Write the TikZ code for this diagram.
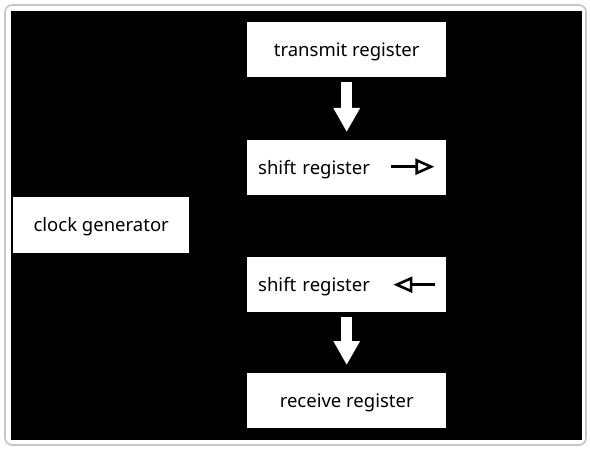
\documentclass[tikz,border=0pt]{standalone}
\usepackage{fontspec}
\setmainfont{Noto Sans}
\usetikzlibrary{arrows.meta}
\begin{document}
\begin{tikzpicture}[x=1pt,y=-1pt,
  box/.style={fill=white, draw=none, minimum width=199pt, minimum height=55pt, inner sep=0pt, text height=15pt, text depth=2pt, font=\fontsize{18.5}{22}\selectfont, anchor=north west},
  leftbox/.style={box, align=left, text width=177pt},
  blockarrow/.style={white, line width=11pt, shorten <=5pt, shorten >=8pt, -{Triangle[width=25pt,length=24pt]}},
  smallarrow/.style={black, line width=2.8pt, -{Triangle[open, width=16pt, length=19pt, line width=2.6pt]}}
]
\useasboundingbox (0,0) rectangle (590,452);
\draw[gray!45, line width=1.6pt, rounded corners=7pt] (5,5) rectangle (586,445);
\fill[black] (11,11) rectangle (582,440);

\node[box] (tr) at (247,22) {transmit register};
\node[leftbox] (sr1) at (247,140) {shift register};
\node[box, minimum width=176pt, minimum height=56pt] (cg) at (13,197) {clock generator};
\node[leftbox] (sr2) at (247,257) {shift register};
\node[box] (rr) at (247,373) {receive register};

\draw[blockarrow] (tr) -- (sr1);
\draw[blockarrow] (sr2) -- (rr);

\draw[smallarrow] ([xshift=-55pt,yshift=1pt]sr1.east) -- ([xshift=-12pt,yshift=1pt]sr1.east);
\draw[smallarrow] ([xshift=-11pt]sr2.east) -- ([xshift=-53pt]sr2.east);
\end{tikzpicture}
\end{document}
